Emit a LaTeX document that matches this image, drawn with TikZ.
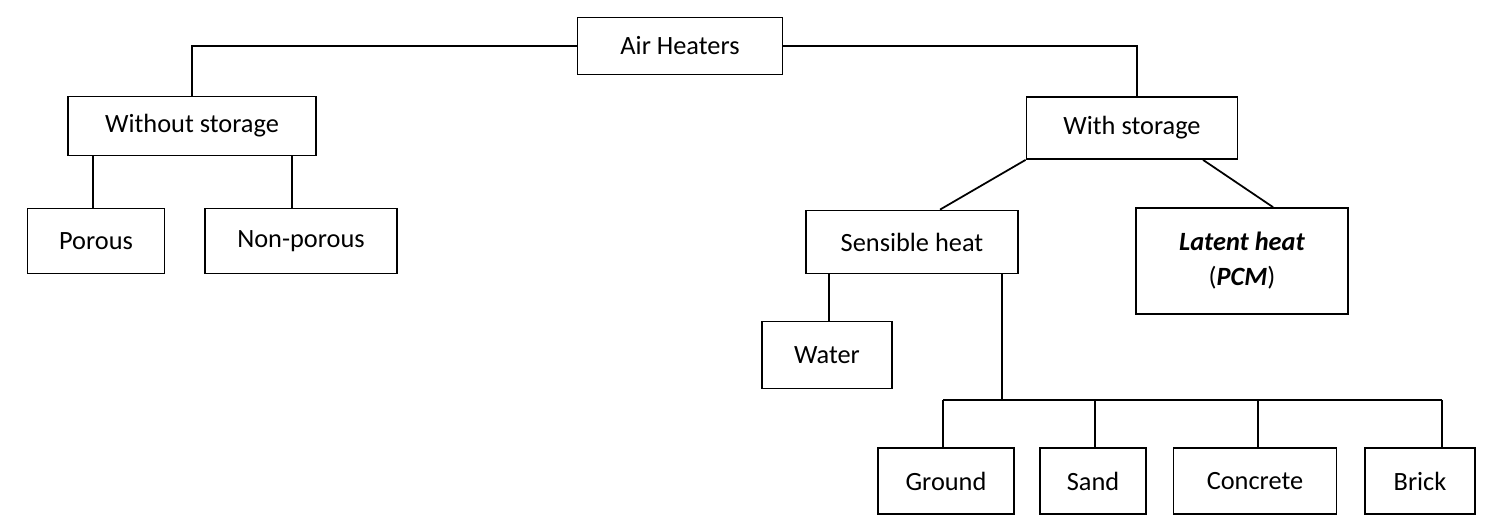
\documentclass[tikz,border=0pt]{standalone}
\usepackage{fontspec}
\setmainfont{Carlito}
\usetikzlibrary{positioning}
\begin{document}
\begin{tikzpicture}[x=0.02cm,y=-0.02cm,
box/.style={rectangle, draw, line width=1pt, inner sep=0pt, font=\fontsize{15}{18}\selectfont, align=center},
link/.style={line width=1pt},
thicklink/.style={line width=1.6pt}
]
\useasboundingbox (0,0) rectangle (1485,526);
%Nodes
\node[box, minimum width=205*0.02cm, minimum height=57*0.02cm] (air) at (680,46) {Air Heaters};
\node[box, minimum width=248*0.02cm, minimum height=59*0.02cm] (without) at (192,126) {Without storage};
\node[box, minimum width=211*0.02cm, minimum height=62*0.02cm] (with) at (1132,128) {With storage};

\node[box, minimum width=137*0.02cm, minimum height=65*0.02cm] (porous) at (96,241) {Porous};
\node[box, minimum width=192*0.02cm, minimum height=65*0.02cm] (nonporous) at (301,241) {Non-porous};

\node[box, minimum width=212*0.02cm, minimum height=63*0.02cm] (sensible) at (912,242) {Sensible heat};
\node[box, minimum width=212*0.02cm, minimum height=106*0.02cm] (latent) at (1242,261) {\textbf{\textit{Latent heat}}\\[2pt](\textbf{\textit{PCM}})};

\node[box, minimum width=130*0.02cm, minimum height=67*0.02cm] (water) at (827,355) {Water};

\node[box, minimum width=136*0.02cm, minimum height=66*0.02cm] (ground) at (946,481) {Ground};
\node[box, minimum width=106*0.02cm, minimum height=66*0.02cm] (sand) at (1093,481) {Sand};
\node[box, minimum width=163*0.02cm, minimum height=66*0.02cm] (concrete) at (1255,481) {Concrete};
\node[box, minimum width=110*0.02cm, minimum height=66*0.02cm] (brick) at (1420,481) {Brick};

\coordinate (bus) at (1002,400);

%Lines
\draw[link] (air.west) -| (without.north);
\draw[link] (air.east) -| ([xshift=5*0.02cm]with.north);

\draw[thicklink] ([xshift=-99*0.02cm]without.south) -- ([xshift=-3*0.02cm]porous.north);
\draw[thicklink] ([xshift=100*0.02cm]without.south) -- ([xshift=-9*0.02cm]nonporous.north);

\draw[link] (with.south west) -- ([xshift=28*0.02cm]sensible.north);
\draw[link] ([xshift=71*0.02cm]with.south) -- ([xshift=31*0.02cm]latent.north);

\draw[link] ([xshift=-83*0.02cm]sensible.south) -- ([xshift=2*0.02cm]water.north);
\draw[link] ([xshift=90*0.02cm]sensible.south) -- (bus);
\draw[thicklink] ([xshift=-3*0.02cm]ground.north |- bus) -- ([xshift=22*0.02cm]brick.north |- bus);
\draw[link] ([xshift=-3*0.02cm]ground.north |- bus) -- ([xshift=-3*0.02cm]ground.north);
\draw[link] ([xshift=2*0.02cm]sand.north |- bus) -- ([xshift=2*0.02cm]sand.north);
\draw[link] ([xshift=3*0.02cm]concrete.north |- bus) -- ([xshift=3*0.02cm]concrete.north);
\draw[thicklink] ([xshift=22*0.02cm]brick.north |- bus) -- ([xshift=22*0.02cm]brick.north);
\end{tikzpicture}
\end{document}
